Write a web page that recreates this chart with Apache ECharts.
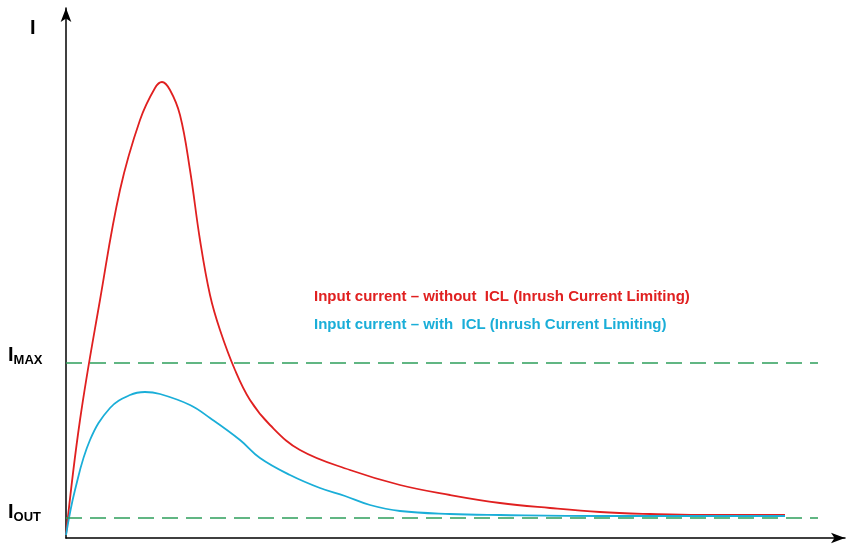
<!DOCTYPE html><html><head><meta charset="utf-8">
<script src="https://cdn.jsdelivr.net/npm/echarts@6/dist/echarts.min.js"></script>
<style>html,body{margin:0;background:#fff}#c{width:853px;height:558px}</style></head><body><div id="c"></div>
<script>
const redX=[0,14,34,54,74,89,96,104,114,124,134,144,154,169,184,204,234,284,334,384,434,484,534,584,634,719];
const redY=[3,118,238,348,418,450,456,448,423,368,298,243,208,168,138,113,88,68,53,43,35,30,26,24,23,23];
const blueX=[0,9,24,44,64,79,94,124,144,174,194,224,254,279,304,334,384,434,534,719];
const blueY=[3,48,98,130,143,146,144,133,120,98,80,63,50,42,33,27,24,23,22,22];
const imax=175, iout=20;
const c=echarts.init(document.getElementById('c'));
const ax={axisLine:{lineStyle:{color:'#000',width:1.5},symbol:['none','arrow'],symbolSize:[8,14]},axisTick:{show:false},axisLabel:{show:false},splitLine:{show:false}};
const green={color:'#2e9e5b',type:[16,8],width:1.5};
c.setOption({animation:false,
grid:{left:66,right:8,top:8,bottom:20},
xAxis:Object.assign({type:'value',min:0,max:779},ax),
yAxis:Object.assign({type:'value',min:0,max:530},ax),
series:[
{type:'line',data:redX.map((x,i)=>[x,redY[i]]),smooth:0.4,symbol:'none',lineStyle:{color:'#e02020',width:1.8}},
{type:'line',data:blueX.map((x,i)=>[x,blueY[i]]),smooth:0.4,symbol:'none',lineStyle:{color:'#1aaed8',width:1.8}},
{type:'line',data:[[0,imax],[752,imax]],symbol:'none',lineStyle:green},
{type:'line',data:[[0,iout],[752,iout]],symbol:'none',lineStyle:green}],
graphic:[
{type:'text',left:30,top:18,style:{text:'I',font:'bold 20px Arial',fill:'#000'}},
{type:'text',left:8,top:345,style:{text:'{a|I}{b|MAX}',rich:{a:{font:'bold 20px Arial',fill:'#000'},b:{font:'bold 13px Arial',fill:'#000',padding:[10,0,0,0]}}}},
{type:'text',left:8,top:502,style:{text:'{a|I}{b|OUT}',rich:{a:{font:'bold 20px Arial',fill:'#000'},b:{font:'bold 13px Arial',fill:'#000',padding:[10,0,0,0]}}}},
{type:'text',left:314,top:289,style:{text:'Input current – without  ICL (Inrush Current Limiting)',font:'bold 15px Arial',fill:'#e02020'}},
{type:'text',left:314,top:317,style:{text:'Input current – with  ICL (Inrush Current Limiting)',font:'bold 15px Arial',fill:'#1aaed8'}}
]});
</script></body></html>
